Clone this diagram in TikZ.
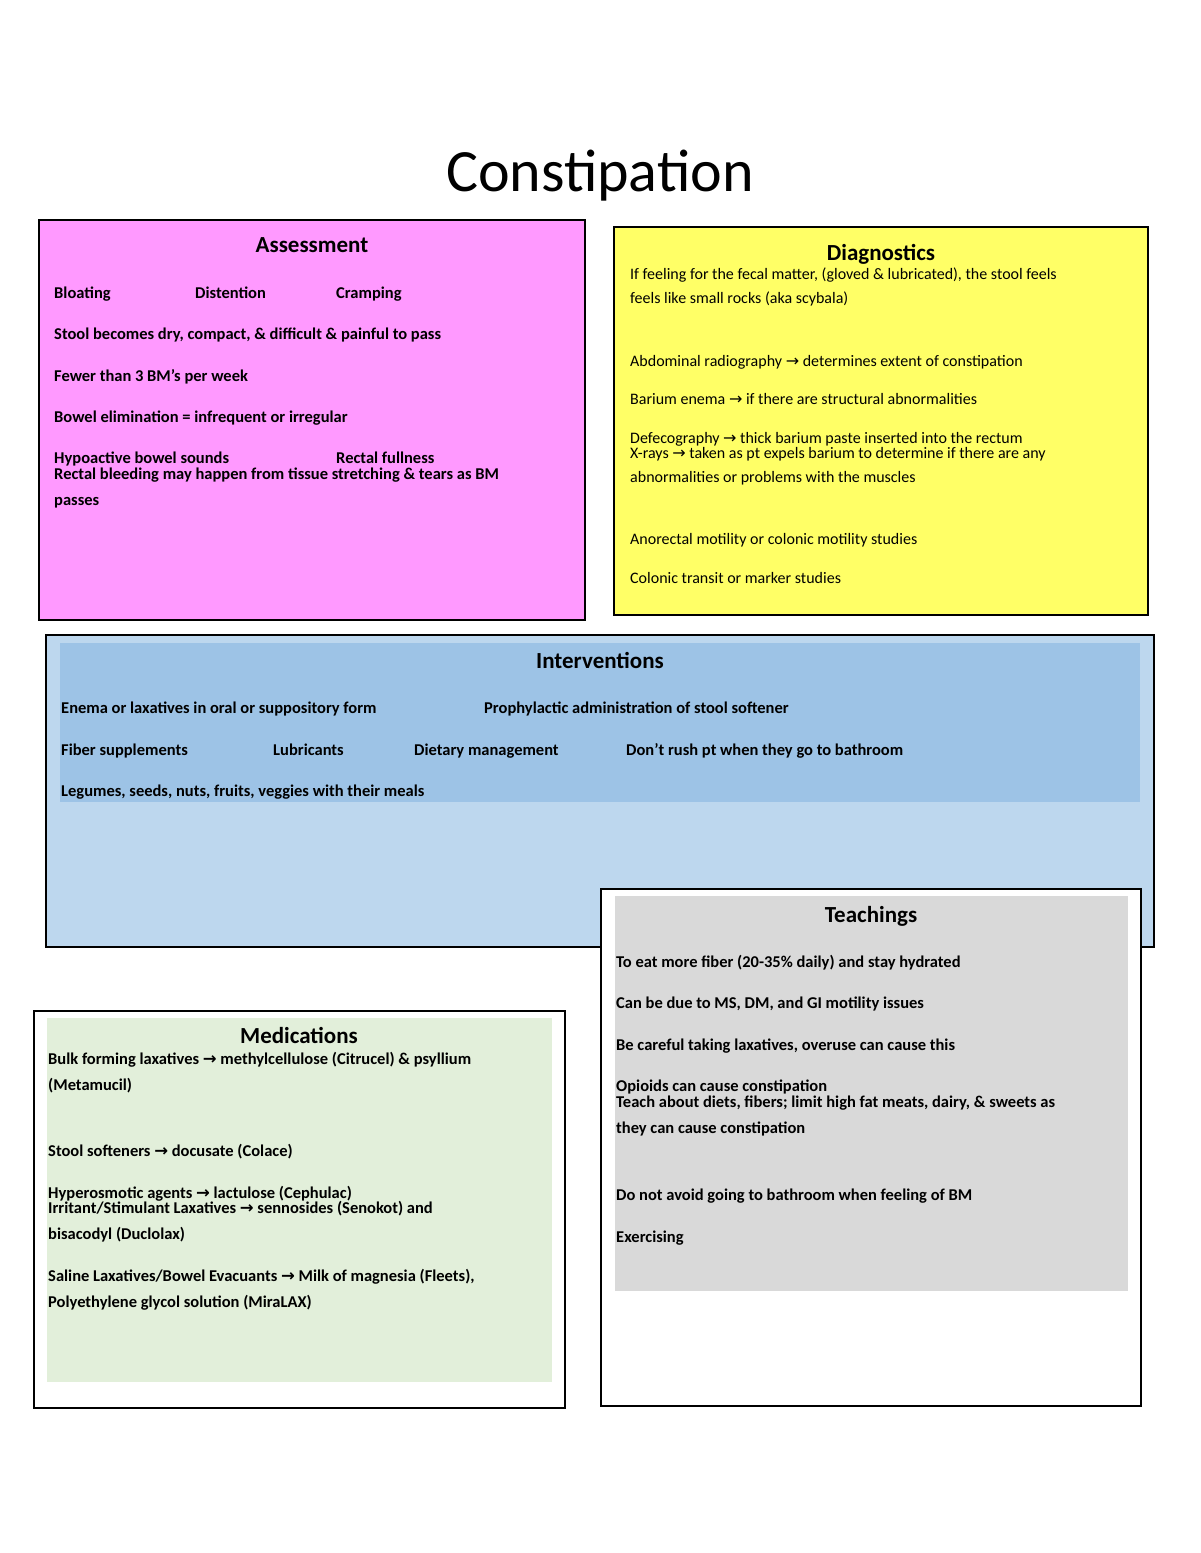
\documentclass[tikz,border=0pt]{standalone}
\usepackage{fontspec}
\setmainfont{Carlito}
\newfontfamily\arr{DejaVu Sans}
\newcommand{\ar}{{\arr\symbol{"2192}}}
\definecolor{pinkbox}{HTML}{FF99FF}
\definecolor{yelbox}{HTML}{FFFF66}
\definecolor{bluelt}{HTML}{BDD7EE}
\definecolor{bluedk}{HTML}{9DC3E6}
\definecolor{greybox}{HTML}{D9D9D9}
\definecolor{greenbox}{HTML}{E2EFDA}
\tikzset{x=1pt,y=-1pt,
 frame/.style={draw=black,line width=2.2pt},
 bt/.style={anchor=base west,inner sep=0pt,font=\fontsize{16.5}{20}\selectfont\bfseries},
 rt/.style={anchor=base west,inner sep=0pt,font=\fontsize{16}{23.5}\selectfont,align=left},
 bm/.style={anchor=base west,inner sep=0pt,font=\fontsize{16.5}{26}\selectfont\bfseries,align=left},
 hd/.style={anchor=base,inner sep=0pt,font=\fontsize{23}{26}\selectfont\bfseries}}
\begin{document}
\begin{tikzpicture}
\useasboundingbox (0,0) rectangle (1200,1553);
\node[anchor=base,inner sep=0pt,font=\fontsize{60}{60}\selectfont] (title) at (600,191) {Constipation};
% Assessment
\draw[frame,fill=pinkbox] (39,220) rectangle (585,620);
\node[hd] (ah) at (312,252) {Assessment};
\node[bt] (a1) at (54,298) {Bloating};
\node[bt] (a2) at (195,298) {Distention};
\node[bt] (a3) at (336,298) {Cramping};
\node[bt] (a4) at (54,339) {Stool becomes dry, compact, \& difficult \& painful to pass};
\node[bt] (a5) at (54,381) {Fewer than 3 BM’s per week};
\node[bt] (a6) at (54,422) {Bowel elimination = infrequent or irregular};
\node[bt] (a7) at (54,463) {Hypoactive bowel sounds};
\node[bt] (a8) at (336,463) {Rectal fullness};
\node[bm] (a9) at (54,505) {Rectal bleeding may happen from tissue stretching \& tears as BM\\passes};
% Diagnostics
\draw[frame,fill=yelbox] (614,227) rectangle (1148,615);
\node[hd] (dh) at (881,260) {Diagnostics};
\node[rt] (d1) at (630,303) {If feeling for the fecal matter, (gloved \& lubricated), the stool feels\\feels like small rocks (aka scybala)};
\node[rt] (d2) at (630,366) {Abdominal radiography \ar{} determines extent of constipation};
\node[rt] (d3) at (630,404) {Barium enema \ar{} if there are structural abnormalities};
\node[rt] (d4) at (630,443) {Defecography \ar{} thick barium paste inserted into the rectum};
\node[rt] (d5) at (630,482) {X-rays \ar{} taken as pt expels barium to determine if there are any\\abnormalities or problems with the muscles};
\node[rt] (d6) at (630,544) {Anorectal motility or colonic motility studies};
\node[rt] (d7) at (630,583) {Colonic transit or marker studies};
% Interventions
\draw[frame,fill=bluelt] (46,635) rectangle (1154,947);
\fill[bluedk] (60,643) rectangle (1140,802);
\node[hd] (ih) at (600,668) {Interventions};
\node[bt] (i1) at (61,713) {Enema or laxatives in oral or suppository form};
\node[bt] (i2) at (484,713) {Prophylactic administration of stool softener};
\node[bt] (i3) at (61,755) {Fiber supplements};
\node[bt] (i4) at (273,755) {Lubricants};
\node[bt] (i5) at (414,755) {Dietary management};
\node[bt] (i6) at (626,755) {Don’t rush pt when they go to bathroom};
\node[bt] (i7) at (61,796) {Legumes, seeds, nuts, fruits, veggies with their meals};
% Teachings
\draw[frame,fill=white] (601,889) rectangle (1141,1406);
\fill[greybox] (615,896) rectangle (1128,1291);
\node[hd] (th) at (871,922) {Teachings};
\node[bt] (t1) at (616,967) {To eat more fiber (20-35\% daily) and stay hydrated};
\node[bt] (t2) at (616,1008) {Can be due to MS, DM, and GI motility issues};
\node[bt] (t3) at (616,1050) {Be careful taking laxatives, overuse can cause this};
\node[bt] (t4) at (616,1091) {Opioids can cause constipation};
\node[bm] (t5) at (616,1133) {Teach about diets, fibers; limit high fat meats, dairy, \& sweets as\\they can cause constipation};
\node[bt] (t6) at (616,1200) {Do not avoid going to bathroom when feeling of BM};
\node[bt] (t7) at (616,1242) {Exercising};
% Medications
\draw[frame,fill=white] (34,1011) rectangle (565,1408);
\fill[greenbox] (47,1018) rectangle (552,1382);
\node[hd] (mh) at (299,1043) {Medications};
\node[bm] (m1) at (48,1090) {Bulk forming laxatives \ar{} methylcellulose (Citrucel) \& psyllium\\(Metamucil)};
\node[bt] (m2) at (48,1156) {Stool softeners \ar{} docusate (Colace)};
\node[bt] (m3) at (48,1198) {Hyperosmotic agents \ar{} lactulose (Cephulac)};
\node[bm] (m4) at (48,1239) {Irritant/Stimulant Laxatives \ar{} sennosides (Senokot) and\\bisacodyl (Duclolax)};
\node[bm] (m5) at (48,1307) {Saline Laxatives/Bowel Evacuants \ar{} Milk of magnesia (Fleets),\\Polyethylene glycol solution (MiraLAX)};
\end{tikzpicture}
\end{document}
